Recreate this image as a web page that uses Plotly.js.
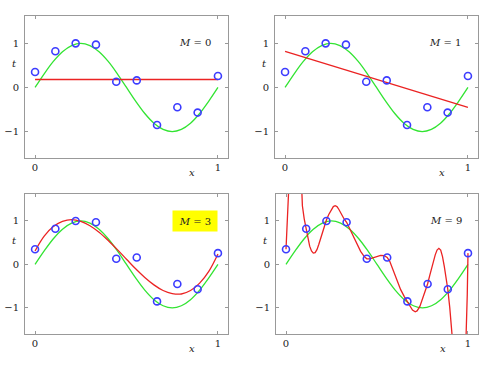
<!DOCTYPE html>
<html><head><meta charset="utf-8">
<script src="https://cdn.plot.ly/plotly-3.0.1.min.js"></script>
<style>html,body{margin:0;padding:0;background:#fff}#c{width:497px;height:365px}</style>
</head><body><div id="c"></div>
<script>
// observed data points
const dataX = [0, 0.111, 0.222, 0.333, 0.444, 0.556, 0.667, 0.778, 0.889, 1];
const dataT = [0.35, 0.82, 1.00, 0.97, 0.13, 0.16, -0.85, -0.45, -0.57, 0.26];
// true curve (green)
const curveX = [0,0.05,0.1,0.15,0.2,0.25,0.3,0.35,0.4,0.45,0.5,0.55,0.6,0.65,0.7,0.75,0.8,0.85,0.9,0.95,1];
const greenY = [0,0.31,0.59,0.81,0.95,1.0,0.95,0.81,0.59,0.31,0,-0.31,-0.59,-0.81,-0.95,-1.0,-0.95,-0.81,-0.59,-0.31,0];
// fitted curves (red)
const m0X = [0, 1];
const m0Y = [0.18, 0.18];
const m1X = [0, 1];
const m1Y = [0.82, -0.45];
const m3Y = [0.31,0.65,0.87,0.99,1.03,0.99,0.89,0.74,0.55,0.34,0.12,-0.10,-0.30,-0.47,-0.60,-0.67,-0.68,-0.60,-0.43,-0.16,0.24];
const m9X = [0,0.004,0.008,0.02,0.05,0.07,0.08,0.085,0.09,0.1,0.111,0.12,0.13,0.14,0.15,0.16,0.17,0.18,0.19,0.2,0.21,0.222,0.235,0.25,0.26,0.27,0.28,0.29,0.3,0.31,0.32,0.333,0.35,0.37,0.39,0.41,0.43,0.444,0.46,0.48,0.5,0.52,0.54,0.556,0.57,0.59,0.61,0.63,0.65,0.667,0.68,0.695,0.71,0.72,0.735,0.75,0.765,0.778,0.79,0.805,0.82,0.83,0.84,0.85,0.86,0.87,0.88,0.889,0.9,0.91,0.93,0.96,0.98,0.99,0.993,0.996,1];
const m9Y = [0.35,1.0,1.7,3.5,5,3.5,2.2,1.6,1.35,1.05,0.82,0.6,0.42,0.31,0.26,0.27,0.34,0.46,0.6,0.76,0.9,1.02,1.15,1.27,1.33,1.35,1.33,1.27,1.19,1.11,1.04,0.97,0.82,0.64,0.46,0.3,0.18,0.13,0.13,0.16,0.19,0.21,0.2,0.16,0.07,-0.15,-0.38,-0.58,-0.74,-0.85,-0.96,-1.05,-1.09,-1.07,-0.97,-0.8,-0.62,-0.45,-0.25,0.0,0.22,0.33,0.37,0.33,0.18,-0.05,-0.3,-0.57,-1.0,-1.6,-3,-4,-3,-1.8,-1.5,-0.7,0.26];
const labels = ['M = 0','M = 1','M = 3','M = 9'];
const xTicks = [0, 1];
const yTicks = [-1, 0, 1];
const yTickText = ['\u22121', '0', '1'];

const GREEN = 'rgb(50,228,50)', RED = 'rgb(235,35,35)', BLUE = 'rgb(60,60,255)';
const fits = [[m0X,m0Y,'linear'],[m1X,m1Y,'linear'],[curveX,m3Y,'spline'],[m9X,m9Y,'linear']];
const traces = [];
for (let i = 0; i < 4; i++) {
  const s = i === 0 ? '' : String(i + 1);
  traces.push({x: curveX, y: greenY, xaxis: 'x'+s, yaxis: 'y'+s, mode: 'lines', line: {color: GREEN, width: 1.3, shape: 'spline'}, hoverinfo: 'skip'});
  traces.push({x: fits[i][0], y: fits[i][1], xaxis: 'x'+s, yaxis: 'y'+s, mode: 'lines', line: {color: RED, width: 1.3, shape: fits[i][2]}, hoverinfo: 'skip'});
  traces.push({x: dataX, y: dataT, xaxis: 'x'+s, yaxis: 'y'+s, mode: 'markers', marker: {symbol: 'circle-open', size: 7, color: BLUE, line: {width: 1.6, color: BLUE}}, cliponaxis: false});
}
const W = 497, H = 365;
const boxes = [[25,228,16,158],[275,478,16,158],[25,228,194,334],[276,478,194,334]];
const font = {family: 'DejaVu Serif', size: 10, color: '#222'};
const layout = {width: W, height: H, margin: {l:0,r:0,t:0,b:0}, showlegend: false, paper_bgcolor: '#fff', plot_bgcolor: '#fff', font: font, annotations: []};
boxes.forEach((b, i) => {
  const s = i === 0 ? '' : String(i + 1);
  layout['xaxis'+s] = {domain: [b[0]/W, b[1]/W], range: [-0.055, 1.055], anchor: 'y'+s, tickvals: xTicks, ticktext: xTicks.map(String), ticks: 'inside', ticklen: 3, tickcolor: '#999', showline: true, linecolor: '#999', linewidth: 1, mirror: 'ticks', showgrid: false, zeroline: false, tickfont: font, fixedrange: true};
  layout['yaxis'+s] = {domain: [1 - b[3]/H, 1 - b[2]/H], range: [-1.6, 1.62], anchor: 'x'+s, tickvals: yTicks, ticktext: yTickText, ticks: 'inside', ticklen: 3, tickcolor: '#999', showline: true, linecolor: '#999', linewidth: 1, mirror: 'ticks', showgrid: false, zeroline: false, tickfont: font, ticklabelstandoff: 3, fixedrange: true};
  const left = b[0], bottom = b[3], top = b[2];
  layout.annotations.push({xref: 'paper', yref: 'paper', x: (left - 11)/W, y: 1 - (top + 47)/H, text: '<i>t</i>', showarrow: false, font: font, xanchor: 'center', yanchor: 'middle'});
  layout.annotations.push({xref: 'paper', yref: 'paper', x: (left + 167)/W, y: 1 - (bottom + 14)/H, text: '<i>x</i>', showarrow: false, font: font, xanchor: 'center', yanchor: 'middle'});
  const parts = labels[i].split(' = ');
  const ann = {xref: 'paper', yref: 'paper', x: (left + 170)/W, y: 1 - (top + 27)/H, text: '<i>' + parts[0] + '</i> = ' + parts[1], showarrow: false, font: font, xanchor: 'center', yanchor: 'middle'};
  if (i === 2) { ann.bgcolor = 'rgb(255,255,0)'; ann.width = 42; ann.height = 18; }
  layout.annotations.push(ann);
});
Plotly.newPlot('c', traces, layout, {staticPlot: true});
</script></body></html>
